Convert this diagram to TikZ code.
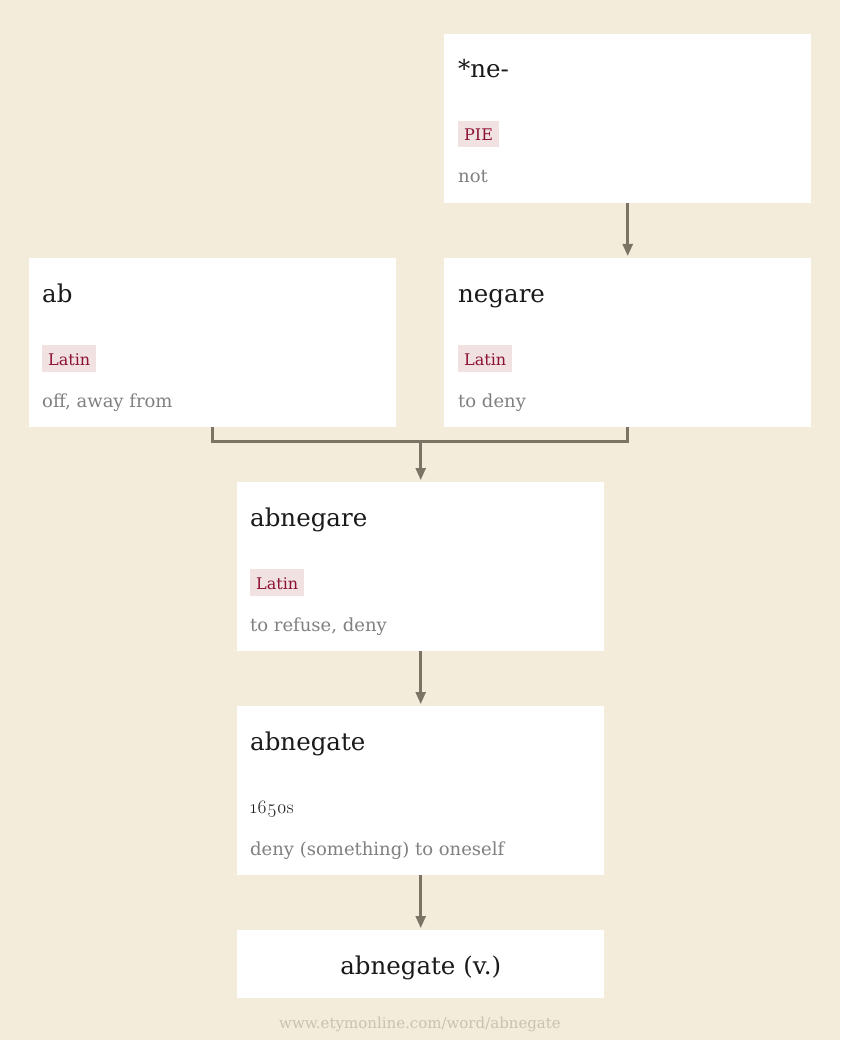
\documentclass[tikz,border=0pt]{standalone}
\usepackage{fontspec}
\setmainfont{DejaVu Serif}
\newfontfamily\oldnum[Numbers=OldStyle]{Latin Modern Roman}
\usetikzlibrary{arrows.meta}
\definecolor{bg}{HTML}{F4ECDB}
\definecolor{arrowc}{HTML}{7B7464}
\definecolor{tagbg}{HTML}{F1E1E1}
\definecolor{tagfg}{HTML}{8B1232}
\definecolor{glossc}{HTML}{808080}
\definecolor{titlec}{HTML}{1A1A1A}
\definecolor{footc}{HTML}{C9C1B1}
\begin{document}
\begin{tikzpicture}[x=1pt,y=-1pt,
  box/.style={fill=white,minimum width=367pt,minimum height=169pt,inner sep=0pt,anchor=north west},
  smallbox/.style={fill=white,minimum width=367pt,minimum height=68pt,inner sep=0pt,anchor=north west},
  title/.style={anchor=base west,inner sep=0pt,text=titlec,font=\fontsize{24.5}{30}\selectfont},
  tagbox/.style={anchor=base west,fill=tagbg,text=tagfg,inner xsep=6pt,inner ysep=0pt,text height=20pt,text depth=6.5pt,font=\fontsize{16}{20}\selectfont},
  date/.style={anchor=base west,inner sep=0pt,text=titlec,font=\fontsize{19}{22}\selectfont\oldnum},
  gloss/.style={anchor=base west,inner sep=0pt,text=glossc,font=\fontsize{18}{22}\selectfont},
  foot/.style={anchor=base,inner sep=0pt,text=footc,font=\fontsize{15}{18}\selectfont},
  link/.style={draw=arrowc,line width=2.5pt},
  arr/.style={link,-{Triangle[width=10pt,length=12pt]},shorten >=2pt}
]
\fill[bg] (0,0) rectangle (840,1040);
\useasboundingbox (0,0) rectangle (840,1040);

% boxes
\node[box] (ne) at (444,34) {};
\node[box] (ab) at (29,258) {};
\node[box] (negare) at (444,258) {};
\node[box] (abnegare) at (237,482) {};
\node[box] (abnegate) at (237,706) {};
\node[smallbox] (final) at (237,930) {};

% *ne-
\node[title] (neT) at ([shift={(14,44)}]ne.north west) {*ne-};
\node[tagbox] (neL) at ([shift={(14,107)}]ne.north west) {PIE};
\node[gloss] (neG) at ([shift={(14,149)}]ne.north west) {not};

% ab
\node[title] (abT) at ([shift={(13,44)}]ab.north west) {ab};
\node[tagbox] (abL) at ([shift={(13,107)}]ab.north west) {Latin};
\node[gloss] (abG) at ([shift={(13,149)}]ab.north west) {off, away from};

% negare
\node[title] (negT) at ([shift={(14,44)}]negare.north west) {negare};
\node[tagbox] (negL) at ([shift={(14,107)}]negare.north west) {Latin};
\node[gloss] (negG) at ([shift={(14,149)}]negare.north west) {to deny};

% abnegare
\node[title] (abnT) at ([shift={(13,44)}]abnegare.north west) {abnegare};
\node[tagbox] (abnL) at ([shift={(13,107)}]abnegare.north west) {Latin};
\node[gloss] (abnG) at ([shift={(13,149)}]abnegare.north west) {to refuse, deny};

% abnegate
\node[title] (abgT) at ([shift={(13,44)}]abnegate.north west) {abnegate};
\node[date] (abgD) at ([shift={(13,107)}]abnegate.north west) {1650s};
\node[gloss] (abgG) at ([shift={(13,149)}]abnegate.north west) {deny (something) to oneself};

% final
\node[title,anchor=base] (finT) at ([shift={(0,44)}]final.north) {abnegate (v.)};

% connectors
\draw[arr] (ne.south) -- (negare.north);
\path (ab.south) ++(0,14) coordinate (abd);
\coordinate (j) at (abnegare.north |- abd);
\draw[link] (ab.south) -- (abd) -| (negare.south);
\draw[arr] (j) -- (abnegare.north);
\draw[arr] (abnegare.south) -- (abnegate.north);
\draw[arr] (abnegate.south) -- (final.north);

\node[foot] (url) at (420,1028) {www.etymonline.com/word/abnegate};
\end{tikzpicture}
\end{document}
